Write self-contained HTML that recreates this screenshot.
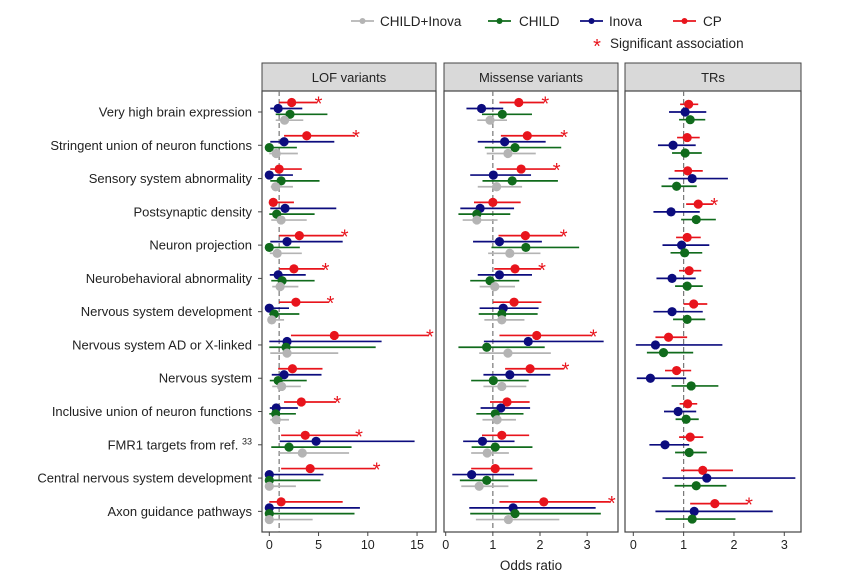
<!DOCTYPE html>
<html><head><meta charset="utf-8"><style>
body{margin:0;background:#fff;}
svg{display:block;font-family:"Liberation Sans",Arial,sans-serif;}
</style></head><body>
<svg id="chart" width="855" height="577" viewBox="0 0 855 577"></svg>
<script>
const categories=["Very high brain expression","Stringent union of neuron functions","Sensory system abnormality","Postsynaptic density","Neuron projection","Neurobehavioral abnormality","Nervous system development","Nervous system AD or X-linked","Nervous system","Inclusive union of neuron functions","FMR1 targets from ref. 33","Central nervous system development","Axon guidance pathways"];
// LOF: [point, lo, hi]
const lofCP=[[2.27,1.0,4.8],[3.8,1.5,8.6],[1.0,0.1,3.3],[0.4,0.05,2.5],[3.05,1.0,7.45],[2.5,1.0,5.5],[2.7,1.0,6.0],[6.6,2.2,16.1],[2.35,0.9,5.4],[3.25,1.5,6.7],[3.65,1.2,8.9],[4.15,1.2,10.7],[1.2,0,7.45]];
const lofInova=[[0.9,0.1,3.35],[1.5,0.1,6.6],[0,0,2.4],[1.6,0.1,6.8],[1.8,0.1,7.45],[0.9,0.05,3.7],[0,0,2.0],[1.8,0,11.4],[1.5,0.25,5.3],[0.7,0.05,2.9],[4.75,1.05,14.75],[0,0,5.5],[0,0,9.2]];
const lofCHILD=[[2.1,0.65,5.9],[0,0,2.8],[1.2,0.1,5.1],[0.75,0,4.6],[0,0,3.1],[1.3,0.2,4.6],[0.5,0,3.05],[1.7,0,10.8],[0.9,0.05,3.8],[0.65,0,2.7],[2.0,0.2,8.35],[0,0,5.2],[0,0,8.65]];
const lofBoth=[[1.55,0.65,3.45],[0.7,0,2.9],[0.65,0.15,2.4],[1.2,0.2,3.8],[0.8,0.05,3.3],[1.1,0.3,2.95],[0.25,0,1.5],[1.8,0.1,7.0],[1.25,0.3,3.2],[0.7,0.1,2.0],[3.35,1.0,8.1],[0,0,2.7],[0,0,4.4]];
const lofSig=[1,1,0,0,1,1,1,1,0,1,1,1,0];
// Missense
const misCP=[[1.55,1.14,2.07],[1.73,1.17,2.47],[1.6,1.08,2.31],[1.0,0.6,1.59],[1.69,1.12,2.46],[1.47,1.03,2.0],[1.45,1.0,2.03],[1.93,1.14,3.09],[1.79,1.26,2.5],[1.3,0.94,1.78],[1.19,0.77,1.77],[1.05,0.54,1.84],[2.08,1.14,3.48]];
const misInova=[[0.76,0.44,1.22],[1.25,0.68,2.12],[1.01,0.52,1.81],[0.73,0.31,1.45],[1.14,0.58,2.04],[1.14,0.68,1.83],[1.22,0.72,1.97],[1.75,0.81,3.35],[1.36,0.8,2.22],[1.17,0.74,1.79],[0.78,0.37,1.46],[0.55,0.14,1.45],[1.43,0.5,3.18]];
const misCHILD=[[1.2,0.77,1.83],[1.47,0.83,2.45],[1.41,0.78,2.38],[0.66,0.27,1.37],[1.7,0.97,2.83],[0.94,0.52,1.56],[1.19,0.7,1.95],[0.87,0.27,2.1],[1.01,0.54,1.76],[1.05,0.65,1.65],[1.05,0.55,1.84],[0.87,0.3,1.94],[1.47,0.52,3.29]];
const misBoth=[[0.94,0.67,1.3],[1.32,0.87,1.91],[1.08,0.68,1.62],[0.66,0.36,1.1],[1.36,0.9,2.01],[1.04,0.72,1.47],[1.19,0.82,1.67],[1.32,0.71,2.23],[1.19,0.8,1.71],[1.09,0.78,1.49],[0.88,0.54,1.34],[0.71,0.33,1.33],[1.33,0.64,2.41]];
const misSig=[1,1,1,0,1,1,0,1,1,0,0,0,1];
// TRs
const trCP=[[1.1,0.93,1.29],[1.07,0.87,1.32],[1.08,0.82,1.38],[1.29,1.05,1.57],[1.07,0.85,1.34],[1.11,0.91,1.35],[1.2,1.0,1.47],[0.7,0.44,1.07],[0.86,0.63,1.15],[1.08,0.92,1.27],[1.13,0.91,1.39],[1.38,0.95,1.98],[1.62,1.13,2.26]];
const trInova=[[1.03,0.71,1.45],[0.79,0.49,1.24],[1.17,0.7,1.88],[0.75,0.4,1.32],[0.96,0.58,1.51],[0.77,0.46,1.24],[0.77,0.4,1.38],[0.44,0.05,1.77],[0.34,0.07,1.05],[0.89,0.61,1.25],[0.63,0.32,1.11],[1.46,0.58,3.22],[1.21,0.44,2.77]];
const trCHILD=[[1.13,0.91,1.43],[1.03,0.77,1.36],[0.86,0.56,1.26],[1.25,0.95,1.64],[1.02,0.74,1.37],[1.07,0.83,1.38],[1.07,0.79,1.43],[0.6,0.27,1.19],[1.15,0.76,1.69],[1.05,0.84,1.3],[1.11,0.83,1.46],[1.25,0.82,1.85],[1.17,0.64,2.03]];
const trSig=[0,0,0,1,0,0,0,0,0,0,0,0,1];
const lofTicks=[0,5,10,15], misTicks=[0,1,2,3], trTicks=[0,1,2,3];

const C={cp:"#e8141c",inova:"#0c0c7e",child:"#106b1c",both:"#b4b4b4"};
const NS="http://www.w3.org/2000/svg";
const svg=document.getElementById("chart");
function mk(tag,attrs,parent){const e=document.createElementNS(NS,tag);for(const k in attrs)e.setAttribute(k,attrs[k]);(parent||svg).appendChild(e);return e;}
const top0=91,bot0=532;
function rowY(i){return 112+i*33.28;}

// legend
const legend=[["CHILD+Inova",C.both,351,380],["CHILD",C.child,488,519],["Inova",C.inova,580,609],["CP",C.cp,673,703]];
legend.forEach(l=>{
  const g=mk("g",{});
  
  
  mk("line",{x1:l[2],x2:l[2]+23,y1:21,y2:21,stroke:l[1],"stroke-width":1.8},g);
  mk("circle",{cx:l[2]+11.5,cy:21,r:3,fill:l[1]},g);
  const t=mk("text",{x:l[3],y:26,"font-size":13.5,fill:"#222"},g);t.textContent=l[0];
});
{const g=mk("g",{});


const s=mk("text",{x:597,y:53,"font-size":20,fill:C.cp,"text-anchor":"middle"},g);s.textContent="*";
const t=mk("text",{x:610,y:48,"font-size":13.5,fill:"#222"},g);t.textContent="Significant association";}

// category labels
categories.forEach((c,i)=>{
  const t=mk("text",{x:252,y:rowY(i)+4.5,"font-size":13,"text-anchor":"end",fill:"#222"});
  
  
  if(c.indexOf("ref. 33")>=0){t.textContent="FMR1 targets from ref. ";const ts=mk("tspan",{"font-size":9,dy:-5},t);ts.textContent="33";}
  else t.textContent=c;
  mk("line",{x1:258,x2:262,y1:rowY(i),y2:rowY(i),stroke:"#444","stroke-width":1});
});

function panel(name,title,x0,x1,zeroX,unit,ticks,series,sig,offsets){
  const g=mk("g",{});
  
  
  const hd=mk("rect",{x:x0,y:63,width:x1-x0,height:28,fill:"#d9d9d9",stroke:"#444","stroke-width":1},g);
  
  
  const ht=mk("text",{x:(x0+x1)/2,y:82,"font-size":13,"text-anchor":"middle",fill:"#222"},g);ht.textContent=title;
  mk("rect",{x:x0,y:top0,width:x1-x0,height:bot0-top0,fill:"none",stroke:"#444","stroke-width":1.2},g);
  const sx=v=>zeroX+v*unit;
  mk("line",{x1:sx(1),x2:sx(1),y1:top0,y2:bot0,stroke:"#777","stroke-width":1.2,"stroke-dasharray":"5,3"},g);
  ticks.forEach(t=>{
    mk("line",{x1:sx(t),x2:sx(t),y1:bot0,y2:bot0+4,stroke:"#444"},g);
    const tl=mk("text",{x:sx(t),y:bot0+17,"font-size":12.5,"text-anchor":"middle",fill:"#222"},g);tl.textContent=t;
  });
  series.forEach((s,si)=>{
    s.data.forEach((d,i)=>{
      const y=rowY(i)+offsets[si];
      const ln=mk("line",{x1:sx(d[1]),x2:sx(d[2]),y1:y,y2:y,stroke:s.color,"stroke-width":1.7},g);
      
      
      const pt=mk("circle",{cx:sx(d[0]),cy:y,r:4.6,fill:s.color},g);
      
      
      if(s.key==="cp"&&sig[i]){
        const st=mk("text",{x:sx(d[2])+2,y:y+8,"font-size":20,fill:C.cp,"text-anchor":"middle"},g);
        
        
        st.textContent="*";
      }
    });
  });
}
panel("lof","LOF variants",262,436,269.3,9.85,lofTicks,
 [{key:"cp",color:C.cp,data:lofCP},{key:"inova",color:C.inova,data:lofInova},{key:"child",color:C.child,data:lofCHILD},{key:"both",color:C.both,data:lofBoth}],lofSig,[-9.5,-3.5,2.3,8.2]);
panel("missense","Missense variants",444,618,445.7,47.15,misTicks,
 [{key:"cp",color:C.cp,data:misCP},{key:"inova",color:C.inova,data:misInova},{key:"child",color:C.child,data:misCHILD},{key:"both",color:C.both,data:misBoth}],misSig,[-9.5,-3.5,2.3,8.2]);
panel("trs","TRs",625,801,633.3,50.33,trTicks,
 [{key:"cp",color:C.cp,data:trCP},{key:"inova",color:C.inova,data:trInova},{key:"child",color:C.child,data:trCHILD}],trSig,[-7.7,0,7.7]);

const xt=mk("text",{x:531,y:570,"font-size":13.5,"text-anchor":"middle",fill:"#222"});


xt.textContent="Odds ratio";
</script>
</body></html>
